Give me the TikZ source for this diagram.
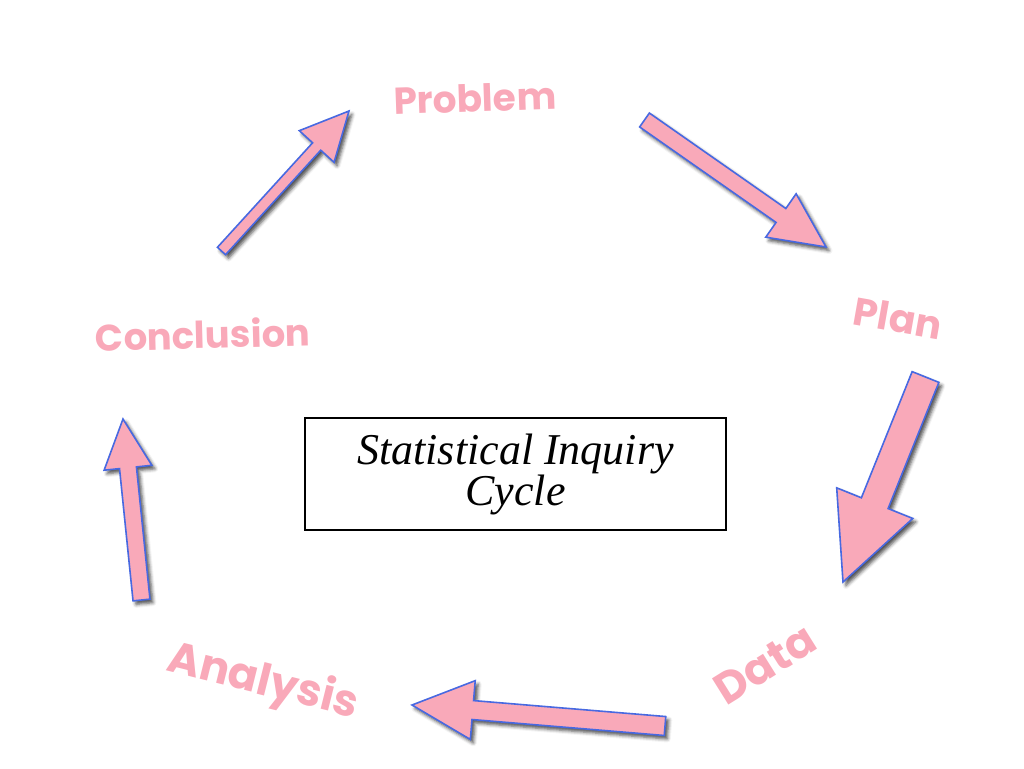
\documentclass[tikz,border=0pt]{standalone}
\usepackage{fontspec}
\setmainfont{Liberation Serif}
\newfontfamily\lblfont{Poppins}
\usetikzlibrary{calc, shadows.blur}
\definecolor{cyclepink}{RGB}{249,169,185}
\definecolor{edgeblue}{RGB}{72,105,225}

\begin{document}
\begin{tikzpicture}[x=1pt, y=1pt,
	stage/.style={text=cyclepink, font=\lblfont\bfseries\fontsize{#1}{#1}\selectfont, inner sep=0},
	stage/.default=37,
	bigarrow/.style={fill=cyclepink, draw=edgeblue, line width=1.6pt, line join=miter,
		blur shadow={shadow xshift=3pt, shadow yshift=-3.5pt, shadow blur radius=3.5pt, shadow opacity=70}},
	titlebox/.style={draw=black, line width=1.2pt, minimum width=421pt, minimum height=112pt,
		align=center, font=\itshape\fontsize{44}{41}\selectfont}
	]
	\useasboundingbox (0,0) rectangle (1024,-768);
	
	\node (box) at (515.5,-474) [titlebox] {Statistical Inquiry\\Cycle};
	
	\node (prob) at (475,-98) [stage=37.5, rotate=2] {Problem};
	\node (plan) at (898,-318) [stage=39, rotate=-10] {Plan};
	\node (data) at (765,-664) [stage=44, rotate=32] {Data};
	\node (anal) at (263,-683) [stage=44, rotate=-14] {Analysis};
	\node (concl) at (203,-334) [stage=37, rotate=1.5] {Conclusion};
	
	% block arrows round the cycle
	\foreach \n/\ax/\ay/\bx/\by/\w/\h/\l in {
		1/221.5/251/349/111/5.5/23.5/48,
		2/644.5/120/826/247/8.5/26.5/55,
		3/925.5/377/843/582/14.4/41/85,
		4/665/726/412/705/9.5/29.5/61,
		5/141.5/600/123/419/8.5/24/49} {
		\coordinate (tail\n) at (\ax,-\ay);
		\coordinate (tip\n) at (\bx,-\by);
		\coordinate (base\n) at ($(tip\n)!\l pt!(tail\n)$);
		\draw [bigarrow] ($(tail\n)!\w pt!90:(tip\n)$) -- ($(base\n)!\w pt!90:(tip\n)$)
			-- ($(base\n)!\h pt!90:(tip\n)$) -- (tip\n) -- ($(base\n)!\h pt!-90:(tip\n)$)
			-- ($(base\n)!\w pt!-90:(tip\n)$) -- ($(tail\n)!\w pt!-90:(tip\n)$) -- cycle;
	}
\end{tikzpicture}
\end{document}
